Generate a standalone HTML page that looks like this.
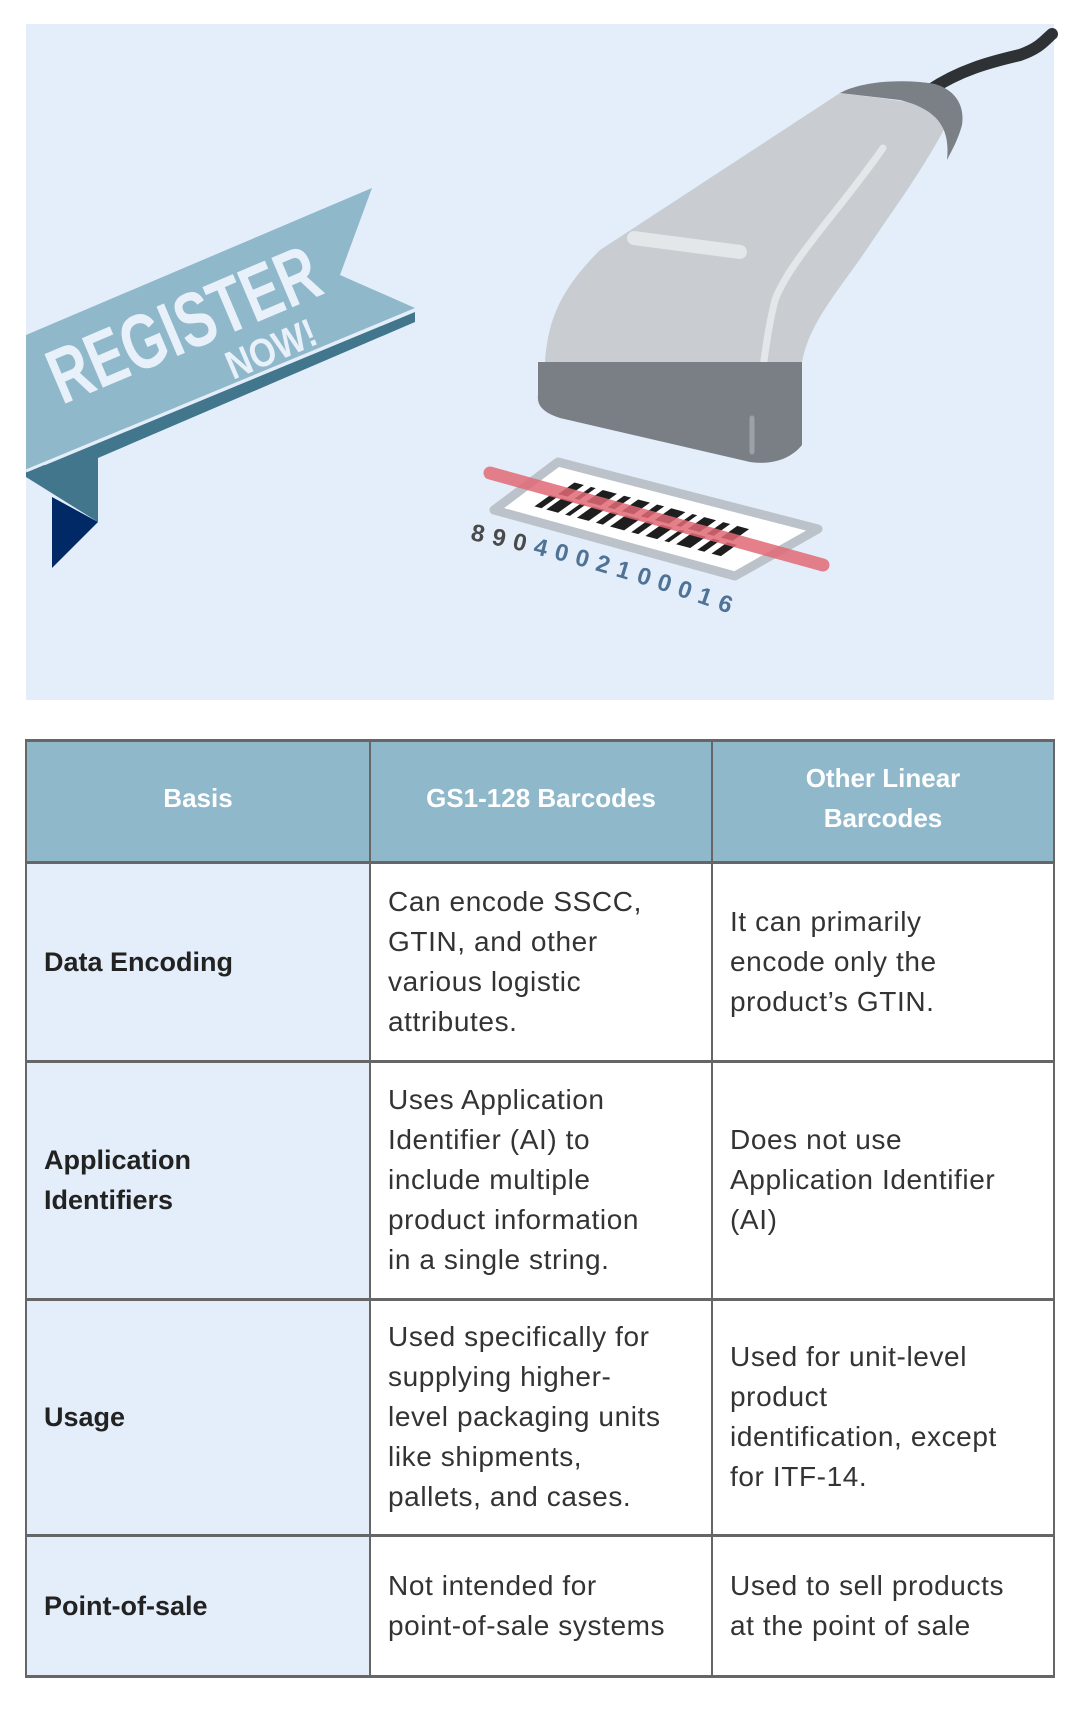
<!DOCTYPE html>
<html><head><meta charset="utf-8">
<style>
html,body{margin:0;padding:0;background:#fff;}
body{width:1080px;height:1711px;position:relative;overflow:hidden;font-family:"Liberation Sans",sans-serif;}
.c{position:absolute;box-sizing:border-box;display:flex;align-items:center;}
.h{background:#8fb8ca;color:#fff;font-weight:bold;font-size:26px;justify-content:center;text-align:center;line-height:40px;padding-bottom:6px;}
.k{background:#e4eefa;color:#222;font-weight:bold;font-size:27px;line-height:40px;padding-left:18px;}
.v{background:#fff;color:#333;font-size:28px;line-height:40px;padding-left:18px;letter-spacing:0.6px;}
.grid{position:absolute;background:#666;}
</style></head><body>
<svg width="1080" height="711" viewBox="0 0 1080 711" style="position:absolute;left:0;top:0">
<rect x="26" y="24" width="1028" height="676" fill="#e4eefa"/>
<polygon points="26,465 98,465 98,522 26,477" fill="#41768c"/>
<polygon points="26,473 415,312 415,322 98,458 98,465 26,477" fill="#41768c"/>
<polygon points="52,497 98,522 52,568" fill="#002966"/>
<polygon points="26,335 372,188 340,275 415,308 26,470" fill="#8fb8ca"/>
<line x1="26" y1="471" x2="415" y2="310" stroke="#e4eefa" stroke-width="3"/>
<text x="0" y="0" transform="translate(62,405) rotate(-23) scale(0.72,1)" font-family="Liberation Sans" font-weight="bold" font-size="78" fill="#e8f0fa">REGISTER</text>
<text x="0" y="0" transform="translate(233,380) rotate(-23) scale(0.85,1)" font-family="Liberation Sans" font-weight="bold" font-size="40" fill="#e8f0fa">NOW!</text>
<path d="M930,90 C960,70 990,62 1020,55 C1040,48 1045,40 1052,34" stroke="#2f3235" stroke-width="12" fill="none" stroke-linecap="round"/>
<path d="M545,362 C548,320 560,290 600,250 L840,93 L955,108 C930,160 900,200 873,240 C840,290 810,320 802,362 Z" fill="#c9cdd2"/>
<path d="M840,93 C860,82 900,78 935,84 C955,90 965,105 962,125 C958,140 952,150 947,160 C950,130 940,110 900,100 Z" fill="#7b8086"/>
<path d="M634,238 L740,252" stroke="#e4e7ea" stroke-width="14" stroke-linecap="round"/>
<path d="M883,148 C840,210 790,260 775,300 C765,340 760,390 757,430" stroke="#e4e7ea" stroke-width="7" fill="none" stroke-linecap="round"/>
<path d="M538,362 L802,362 L802,445 C790,460 770,465 750,462 L560,418 C542,412 537,405 538,395 Z" fill="#7a7f85"/>
<line x1="752" y1="418" x2="752" y2="452" stroke="#9ca1a7" stroke-width="5" stroke-linecap="round"/>
<polygon points="558,462 818,529 735,576 494,510" fill="#fff" stroke="#bcc2c9" stroke-width="9" stroke-linejoin="round"/>
<g transform="matrix(236,63,63,-45,497,510)" fill="#1e1e1e">
<rect x="0.10" y="0.22" width="0.03" height="0.25"/><rect x="0.15" y="0.22" width="0.05" height="0.25"/><rect x="0.23" y="0.22" width="0.02" height="0.25"/>
<rect x="0.28" y="0.22" width="0.05" height="0.25"/><rect x="0.36" y="0.22" width="0.03" height="0.25"/><rect x="0.42" y="0.22" width="0.06" height="0.25"/>
<rect x="0.51" y="0.22" width="0.03" height="0.25"/><rect x="0.57" y="0.22" width="0.05" height="0.25"/><rect x="0.65" y="0.22" width="0.02" height="0.25"/>
<rect x="0.70" y="0.22" width="0.06" height="0.25"/><rect x="0.79" y="0.22" width="0.03" height="0.25"/><rect x="0.85" y="0.22" width="0.04" height="0.25"/>
<rect x="0.12" y="0.52" width="0.04" height="0.26"/><rect x="0.19" y="0.52" width="0.02" height="0.26"/><rect x="0.24" y="0.52" width="0.06" height="0.26"/>
<rect x="0.33" y="0.52" width="0.03" height="0.26"/><rect x="0.39" y="0.52" width="0.05" height="0.26"/><rect x="0.47" y="0.52" width="0.03" height="0.26"/>
<rect x="0.53" y="0.52" width="0.06" height="0.26"/><rect x="0.62" y="0.52" width="0.02" height="0.26"/><rect x="0.67" y="0.52" width="0.05" height="0.26"/>
<rect x="0.75" y="0.52" width="0.03" height="0.26"/><rect x="0.81" y="0.52" width="0.05" height="0.26"/>
</g>
<line x1="490" y1="473" x2="823" y2="565" stroke="#e06a76" stroke-opacity="0.85" stroke-width="13" stroke-linecap="round"/>
<path id="dp" d="M470,540 Q600,565 760,625" fill="none"/>
<text font-family="Liberation Sans" font-weight="bold" font-size="24" letter-spacing="8"><textPath href="#dp"><tspan fill="#4a4a4a">890</tspan><tspan fill="#4e7396">4002100016</tspan></textPath></text>
</svg>

<div class="c h" style="left:26px;top:740px;width:344px;height:122px">Basis</div>
<div class="c h" style="left:370px;top:740px;width:342px;height:122px">GS1-128 Barcodes</div>
<div class="c h" style="left:712px;top:740px;width:342px;height:122px">Other Linear<br>Barcodes</div>

<div class="c k" style="left:26px;top:862px;width:344px;height:199px">Data Encoding</div>
<div class="c v" style="left:370px;top:862px;width:342px;height:199px">Can encode SSCC,<br>GTIN, and other<br>various logistic<br>attributes.</div>
<div class="c v" style="left:712px;top:862px;width:342px;height:199px">It can primarily<br>encode only the<br>product’s GTIN.</div>

<div class="c k" style="left:26px;top:1061px;width:344px;height:238px">Application<br>Identifiers</div>
<div class="c v" style="left:370px;top:1061px;width:342px;height:238px">Uses Application<br>Identifier (AI) to<br>include multiple<br>product information<br>in a single string.</div>
<div class="c v" style="left:712px;top:1061px;width:342px;height:238px">Does not use<br>Application Identifier<br>(AI)</div>

<div class="c k" style="left:26px;top:1299px;width:344px;height:236px">Usage</div>
<div class="c v" style="left:370px;top:1299px;width:342px;height:236px">Used specifically for<br>supplying higher-<br>level packaging units<br>like shipments,<br>pallets, and cases.</div>
<div class="c v" style="left:712px;top:1299px;width:342px;height:236px">Used for unit-level<br>product<br>identification, except<br>for ITF-14.</div>

<div class="c k" style="left:26px;top:1535px;width:344px;height:141px">Point-of-sale</div>
<div class="c v" style="left:370px;top:1535px;width:342px;height:141px">Not intended for<br>point-of-sale systems</div>
<div class="c v" style="left:712px;top:1535px;width:342px;height:141px">Used to sell products<br>at the point of sale</div>

<div class="grid" style="left:25px;top:739px;width:1030px;height:3px"></div>
<div class="grid" style="left:25px;top:861px;width:1030px;height:3px"></div>
<div class="grid" style="left:25px;top:1060px;width:1030px;height:3px"></div>
<div class="grid" style="left:25px;top:1298px;width:1030px;height:3px"></div>
<div class="grid" style="left:25px;top:1534px;width:1030px;height:3px"></div>
<div class="grid" style="left:25px;top:1675px;width:1030px;height:3px"></div>
<div class="grid" style="left:25px;top:739px;width:2px;height:939px"></div>
<div class="grid" style="left:369px;top:739px;width:2px;height:939px"></div>
<div class="grid" style="left:711px;top:739px;width:2px;height:939px"></div>
<div class="grid" style="left:1053px;top:739px;width:2px;height:939px"></div>
</body></html>
